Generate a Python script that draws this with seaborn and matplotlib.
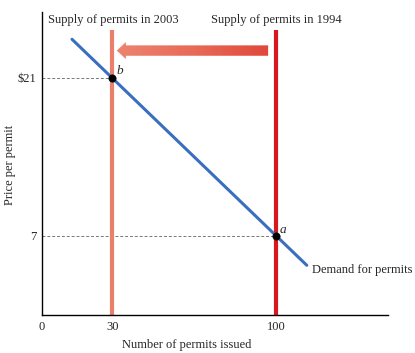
import numpy as np
import pandas as pd
import seaborn as sns
import matplotlib.pyplot as plt
from matplotlib.patches import Polygon
from matplotlib.colors import LinearSegmentedColormap

# data
demand_q = [12.8, 113.0]
demand_p = [24.4, 4.4]
eq_q = [30, 100]
eq_p = [21, 7]
eq_labels = ['b', 'a']
supply_q = [30, 100]
supply_labels = ['Supply of permits in 2003', 'Supply of permits in 1994']
supply_colors = ['#e8806c', '#d7191f']
xticks = [0, 30, 100]
xticklabels = ['0', '30', '100']
yticks = [7, 21]
yticklabels = ['7', '$21']

sns.set_style('white')
plt.rcParams['font.family'] = ['Liberation Serif', 'DejaVu Serif']
fs = 9

fig = plt.figure(figsize=(4.15, 3.53), dpi=100)
ax = fig.add_axes([0.1012, 0.1076, 0.834, 0.858])

# supply lines
for q, c in zip(supply_q, supply_colors):
    ax.plot([q, q], [0, 25.2], color=c, lw=3, solid_capstyle='butt', zorder=2)

# guide dashes
for q, p in zip(eq_q, eq_p):
    ax.plot([0, q], [p, p], color='#777777', lw=0.7, ls=(0, (3, 2)), zorder=1)

df = pd.DataFrame({'q': demand_q, 'p': demand_p})
sns.lineplot(data=df, x='q', y='p', color='#3a6fbf', lw=2.2, ax=ax, zorder=3)

pts = pd.DataFrame({'q': eq_q, 'p': eq_p})
sns.scatterplot(data=pts, x='q', y='p', color='black', s=28, edgecolor='black', ax=ax, zorder=4)
for q, p, lab in zip(eq_q, eq_p, eq_labels):
    ax.text(q + 1.6, p + 0.55, lab, style='italic', fontsize=fs + 0.5, ha='left', va='center')

# gradient arrow from 1994 to 2003
yc = 23.4
bh, hh = 0.46, 0.75
tip, hb, tail = 31.9, 35.8, 96.5
verts = [(tail, yc - bh), (hb, yc - bh), (hb, yc - hh), (tip, yc),
         (hb, yc + hh), (hb, yc + bh), (tail, yc + bh)]
arrow = Polygon(verts, closed=True, facecolor='none', edgecolor='none')
ax.add_patch(arrow)
cmap = LinearSegmentedColormap.from_list('g', ['#ec8470', '#e86a58', '#e0483c'])
grad = np.linspace(0, 1, 256).reshape(1, -1)
im = ax.imshow(grad, extent=[tip, tail, yc - hh, yc + hh], cmap=cmap,
               aspect='auto', zorder=2)
im.set_clip_path(arrow)

# labels
ax.text(30.3, 26.1, supply_labels[0], ha='center', va='center', fontsize=fs)
ax.text(99.9, 26.1, supply_labels[1], ha='center', va='center', fontsize=fs)
ax.text(115.3, 4.0, 'Demand for permits', ha='left', va='center', fontsize=fs)

ax.set_xlim(0, 147.7)
ax.set_ylim(0, 26.8)
ax.set_xticks(xticks)
ax.set_xticklabels(xticklabels, fontsize=fs)
ax.set_yticks(yticks)
ax.set_yticklabels(yticklabels, fontsize=fs)
ax.tick_params(length=0, pad=4)
ax.set_xlabel('')
ax.set_ylabel('')
fig.text(0.45, 0.022, 'Number of permits issued', ha='center', va='center', fontsize=fs)
fig.text(0.024, 0.533, 'Price per permit', ha='center', va='center', rotation=90, fontsize=fs)
for s in ['top', 'right']:
    ax.spines[s].set_visible(False)
for s in ['left', 'bottom']:
    ax.spines[s].set_color('black')
    ax.spines[s].set_linewidth(1.0)

fig.savefig('out.png', dpi=100)
